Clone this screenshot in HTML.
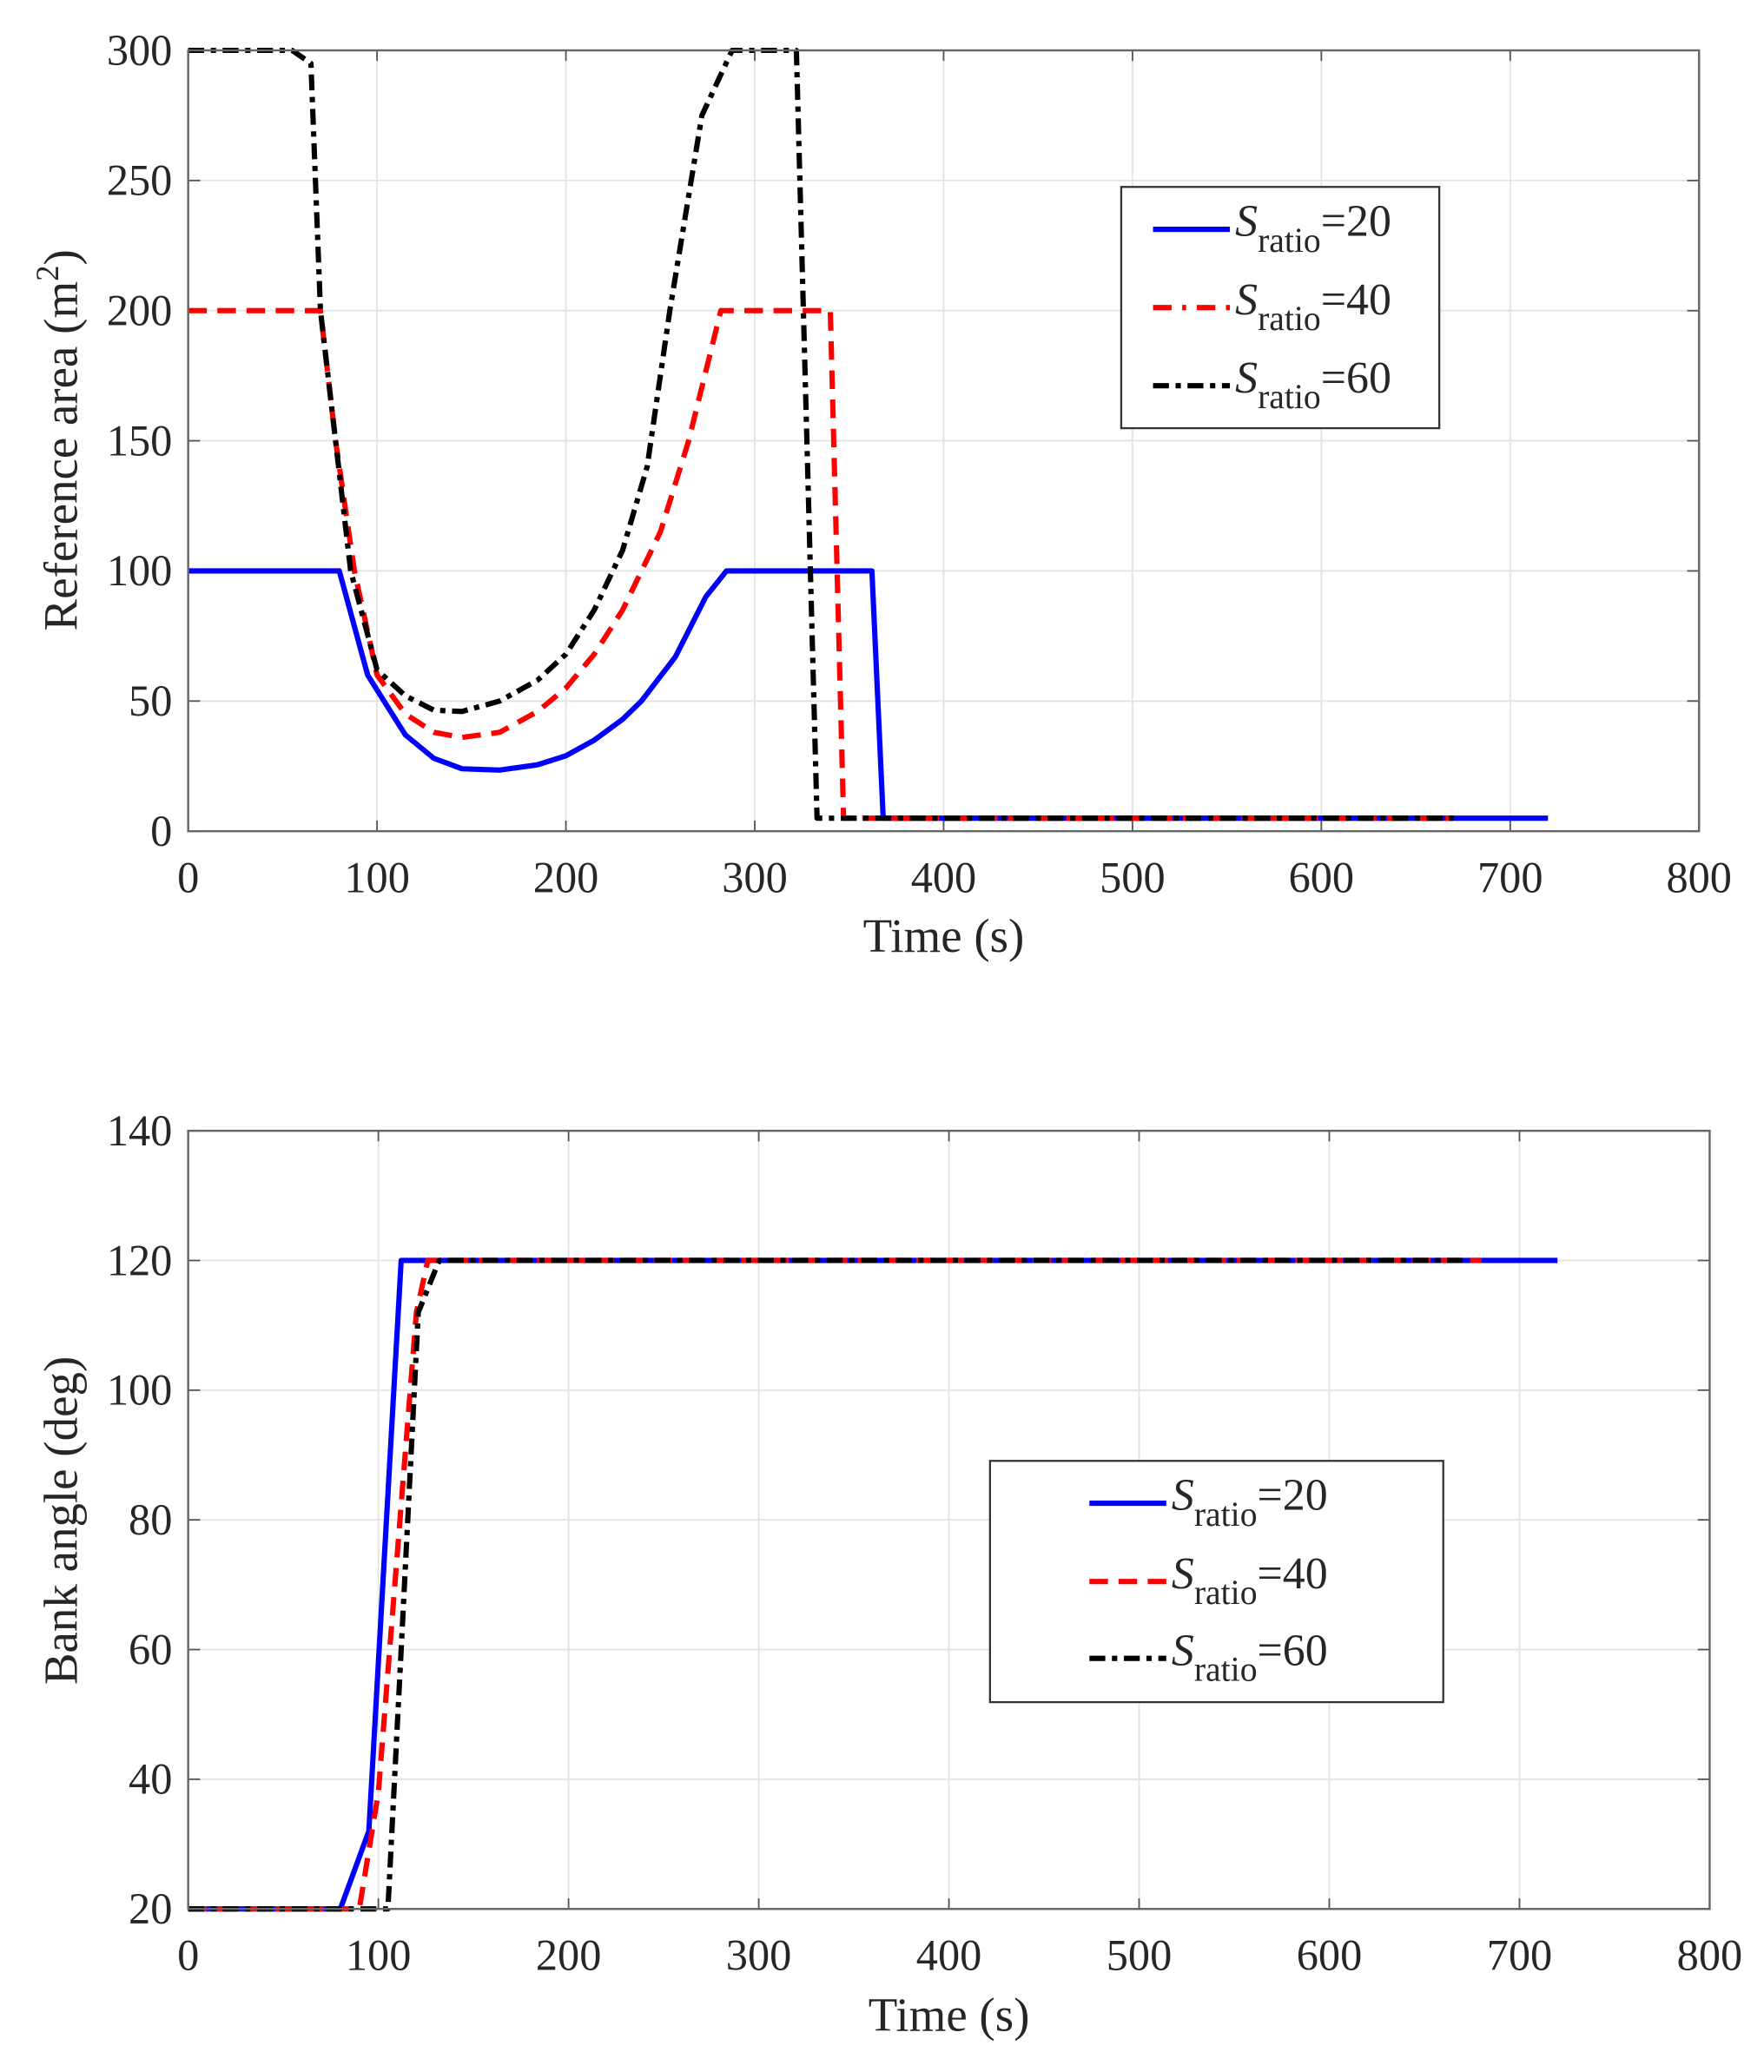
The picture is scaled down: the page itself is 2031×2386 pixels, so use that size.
<!DOCTYPE html>
<html><head><meta charset="utf-8"><style>
html,body{margin:0;padding:0;background:#fff;}
svg{display:block;}
text{font-family:"Liberation Serif",serif;fill:#262626;}
</style></head><body>
<svg id="s" width="2031" height="2386" viewBox="0 0 1331 1563" preserveAspectRatio="none" xmlns="http://www.w3.org/2000/svg">
<rect width="1331" height="1563" fill="#fff"/>
<g id="g1"></g>
<g id="g2"></g>
<text x="712" y="718" font-size="36" text-anchor="middle">Time (s)</text>
<text x="716" y="1532" font-size="36" text-anchor="middle">Time (s)</text>
<text transform="translate(58,332) rotate(-90)" font-size="36" text-anchor="middle">Reference area (m<tspan dy="-14" font-size="24">2</tspan><tspan dy="14">)</tspan></text>
<text transform="translate(58,1147) rotate(-90)" font-size="36" text-anchor="middle">Bank angle (deg)</text>
<rect x="846" y="141" width="240" height="182" fill="#fff" stroke="#333" stroke-width="1.5"/>
<line x1="870" y1="173" x2="928" y2="173" stroke="#0000ff" stroke-width="4"/>
<line x1="870" y1="232" x2="928" y2="232" stroke="#ff0000" stroke-width="4" stroke-dasharray="14,8,3,8"/>
<line x1="870" y1="291" x2="928" y2="291" stroke="#000" stroke-width="4" stroke-dasharray="12,5,4,5"/>
<text x="932" y="178" font-size="34"><tspan font-style="italic">S</tspan><tspan dy="12" font-size="26">ratio</tspan><tspan dy="-12">=20</tspan></text>
<text x="932" y="237" font-size="34"><tspan font-style="italic">S</tspan><tspan dy="12" font-size="26">ratio</tspan><tspan dy="-12">=40</tspan></text>
<text x="932" y="296" font-size="34"><tspan font-style="italic">S</tspan><tspan dy="12" font-size="26">ratio</tspan><tspan dy="-12">=60</tspan></text>
<rect x="747" y="1102" width="342" height="182" fill="#fff" stroke="#333" stroke-width="1.5"/>
<line x1="822" y1="1134" x2="880" y2="1134" stroke="#0000ff" stroke-width="4"/>
<line x1="822" y1="1193" x2="880" y2="1193" stroke="#ff0000" stroke-width="4" stroke-dasharray="14,8"/>
<line x1="822" y1="1251" x2="880" y2="1251" stroke="#000" stroke-width="4" stroke-dasharray="12,5,4,5"/>
<text x="884" y="1139" font-size="34"><tspan font-style="italic">S</tspan><tspan dy="12" font-size="26">ratio</tspan><tspan dy="-12">=20</tspan></text>
<text x="884" y="1198" font-size="34"><tspan font-style="italic">S</tspan><tspan dy="12" font-size="26">ratio</tspan><tspan dy="-12">=40</tspan></text>
<text x="884" y="1256" font-size="34"><tspan font-style="italic">S</tspan><tspan dy="12" font-size="26">ratio</tspan><tspan dy="-12">=60</tspan></text>
</svg>
<script>
var NS="http://www.w3.org/2000/svg";
function el(g,t,a,txt){var e=document.createElementNS(NS,t);for(var k in a)e.setAttribute(k,a[k]);if(txt!==undefined)e.textContent=txt;g.appendChild(e);return e;}
function plot(gid,L,R,T,B,ymin,ymax,ystep,series){
 var g=document.getElementById(gid);
 var X=function(x){return L+(R-L)*x/800;}, Y=function(y){return B-(B-T)*(y-ymin)/(ymax-ymin);};
 for(var x=0;x<=800;x+=100){var px=X(x);
  if(x>0&&x<800)el(g,"line",{x1:px,y1:T,x2:px,y2:B,stroke:"#e3e3e3","stroke-width":1.2});
  el(g,"line",{x1:px,y1:B,x2:px,y2:B-8,stroke:"#555","stroke-width":1.2});
  el(g,"line",{x1:px,y1:T,x2:px,y2:T+8,stroke:"#555","stroke-width":1.2});
  el(g,"text",{x:px,y:B+46,"font-size":33,"text-anchor":"middle"},String(x));}
 for(var y=ymin;y<=ymax;y+=ystep){var py=Y(y);
  if(y>ymin&&y<ymax)el(g,"line",{x1:L,y1:py,x2:R,y2:py,stroke:"#e3e3e3","stroke-width":1.2});
  el(g,"line",{x1:L,y1:py,x2:L+9,y2:py,stroke:"#555","stroke-width":1.2});
  el(g,"line",{x1:R,y1:py,x2:R-9,y2:py,stroke:"#555","stroke-width":1.2});
  el(g,"text",{x:L-12,y:py+11,"font-size":33,"text-anchor":"end"},String(y));}
 series.forEach(function(s){
  var d=s.p.map(function(q,i){return (i?"L":"M")+X(q[0]).toFixed(1)+","+Y(q[1]).toFixed(1);}).join("");
  var a={d:d,fill:"none",stroke:s.c,"stroke-width":4,"stroke-linejoin":"round"};
  if(s.da)a["stroke-dasharray"]=s.da;
  el(g,"path",a);});
 el(g,"rect",{x:L,y:T,width:R-L,height:B-T,fill:"none",stroke:"#666","stroke-width":1.6});
}
plot("g1",142,1282,38,627,0,300,50,[
 {c:"#0000ff",p:[[0,100],[80,100],[95,60],[115,37],[130,28],[145,24],[165,23.5],[185,25.5],[200,29],[215,35],[230,43],[240,50],[258,67],[274,90],[285,100],[362,100],[368,5],[720,5]]},
 {c:"#ff0000",da:"14,8",p:[[0,200],[70,200],[78,150],[88,100],[100,60],[115,45],[130,38],[145,36],[165,38],[185,46],[200,55],[215,68],[230,85],[250,115],[265,150],[282,200],[340,200],[347,5],[670,5]]},
 {c:"#000",da:"12,5,4,5",p:[[0,300],[55,300],[65,295],[70,200],[78,150],[86,100],[100,62],[115,52],[130,46.5],[145,46],[165,50],[185,58],[200,68],[215,85],[230,108],[243,140],[255,200],[272,275],[288,300],[322,300],[333,5],[670,5]]}
]);
plot("g2",142,1290,853,1440,20,140,20,[
 {c:"#0000ff",p:[[0,20],[80,20],[95,32],[112,120],[720,120]]},
 {c:"#ff0000",da:"14,8",p:[[0,20],[90,20],[100,38],[120,112],[126,120],[680,120]]},
 {c:"#000",da:"12,5,4,5",p:[[0,20],[105,20],[112,60],[121,112],[132,120],[670,120]]}
]);
</script>
</body></html>
